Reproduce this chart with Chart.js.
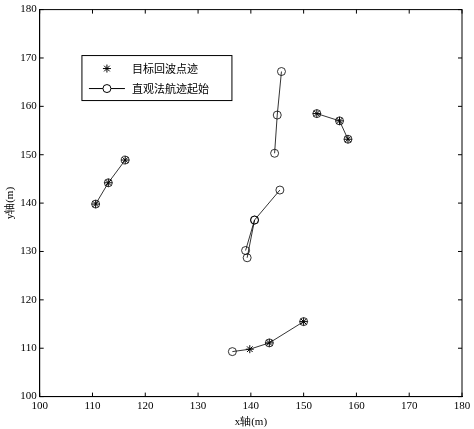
<!DOCTYPE html><html><head><script src="https://cdn.jsdelivr.net/npm/chart.js@4"></script>
<style>html,body{margin:0;background:#fff}#w{width:474px;height:429px}</style></head><body><div id="w"><canvas id="c"></canvas></div>
<script>
const echoX=[110.6,113,116.2,152.5,156.8,158.4,150,143.5,139.8];
const echoY=[139.8,144.2,148.9,158.5,157,153.2,115.5,111.1,109.8];
const tracks=[
 [[110.6,139.8],[113,144.2],[116.2,148.9]],
 [[152.5,158.5],[156.8,157],[158.4,153.2]],
 [[136.5,109.3],[139.8,109.8],[143.5,111.1],[150,115.5]],
 [[144.5,150.3],[145,158.2],[145.8,167.2]],
 [[139.3,128.7],[140.7,136.5],[145.5,142.7]],
 [[139,130.2],[140.7,136.5]]
];
const xTicks=[100,110,120,130,140,150,160,170,180];
const yTicks=[100,110,120,130,140,150,160,170,180];
const legendLabels=['目标回波点迹','直观法航迹起始'];
const F='"Liberation Serif", serif';
const ds=[{label:legendLabels[0],type:'scatter',data:echoX.map((x,i)=>({x,y:echoY[i]})),pointStyle:'star',radius:4,borderColor:'#000',borderWidth:1,showLine:false}];
tracks.forEach((t,ti)=>ds.push({label:legendLabels[1],data:t.map(p=>({x:p[0],y:p[1]})),showLine:true,pointStyle:'circle',radius:t.map((p,i)=>(ti===2&&i===1)?0:4),borderColor:'#000',backgroundColor:'transparent',borderWidth:0.8,pointBorderWidth:0.8}));
const frame={id:'frame',afterDraw(c){const g=c.ctx,a=c.chartArea,sx=c.scales.x,sy=c.scales.y;g.save();g.strokeStyle='#000';g.lineWidth=1;g.strokeRect(a.left,a.top,a.right-a.left,a.bottom-a.top);g.beginPath();
xTicks.forEach(v=>{const p=sx.getPixelForValue(v);g.moveTo(p,a.bottom);g.lineTo(p,a.bottom-4);g.moveTo(p,a.top);g.lineTo(p,a.top+4);});
yTicks.forEach(v=>{const p=sy.getPixelForValue(v);g.moveTo(a.left,p);g.lineTo(a.left+4,p);g.moveTo(a.right,p);g.lineTo(a.right-4,p);});g.stroke();g.restore();}};
const leg={id:'leg',afterDraw(c){const g=c.ctx;const x0=c.scales.x.getPixelForValue(108),y0=c.scales.y.getPixelForValue(170.5);const w=150,h=45;g.save();g.strokeStyle='#000';g.lineWidth=1;g.fillStyle='#fff';g.fillRect(x0,y0,w,h);g.strokeRect(x0,y0,w,h);g.font='11px "Noto Sans CJK SC"';g.fillStyle='#000';g.textBaseline='middle';
const r1=y0+13,r2=y0+33;g.beginPath();for(let k=0;k<4;k++){const an=k*Math.PI/4;g.moveTo(x0+25-4*Math.cos(an),r1-4*Math.sin(an));g.lineTo(x0+25+4*Math.cos(an),r1+4*Math.sin(an));}g.stroke();
g.beginPath();g.moveTo(x0+7,r2);g.lineTo(x0+43,r2);g.stroke();g.beginPath();g.arc(x0+25,r2,4,0,Math.PI*2);g.fillStyle='#fff';g.fill();g.stroke();g.fillStyle='#000';
g.fillText(legendLabels[0],x0+50,r1);g.fillText(legendLabels[1],x0+50,r2);g.restore();}};
new Chart(document.getElementById('c'),{type:'scatter',data:{datasets:ds},plugins:[frame,leg],options:{responsive:true,maintainAspectRatio:false,animation:false,
layout:{padding:{top:4,right:12,left:4,bottom:0}},
plugins:{legend:{display:false},tooltip:{enabled:false}},
scales:{x:{min:100,max:180,afterBuildTicks:s=>{s.ticks=xTicks.map(v=>({value:v}))},grid:{display:false,drawTicks:false},border:{color:'#000'},ticks:{color:'#000',font:{family:F,size:11},padding:3},title:{display:true,text:'x轴(m)',color:'#000',font:{family:F,size:11},padding:0}},
y:{min:100,max:180,afterBuildTicks:s=>{s.ticks=yTicks.map(v=>({value:v}))},grid:{display:false,drawTicks:false},border:{color:'#000'},ticks:{color:'#000',font:{family:F,size:11},padding:3},title:{display:true,text:'y轴(m)',color:'#000',font:{family:F,size:11},padding:0}}}}});
</script></body></html>
